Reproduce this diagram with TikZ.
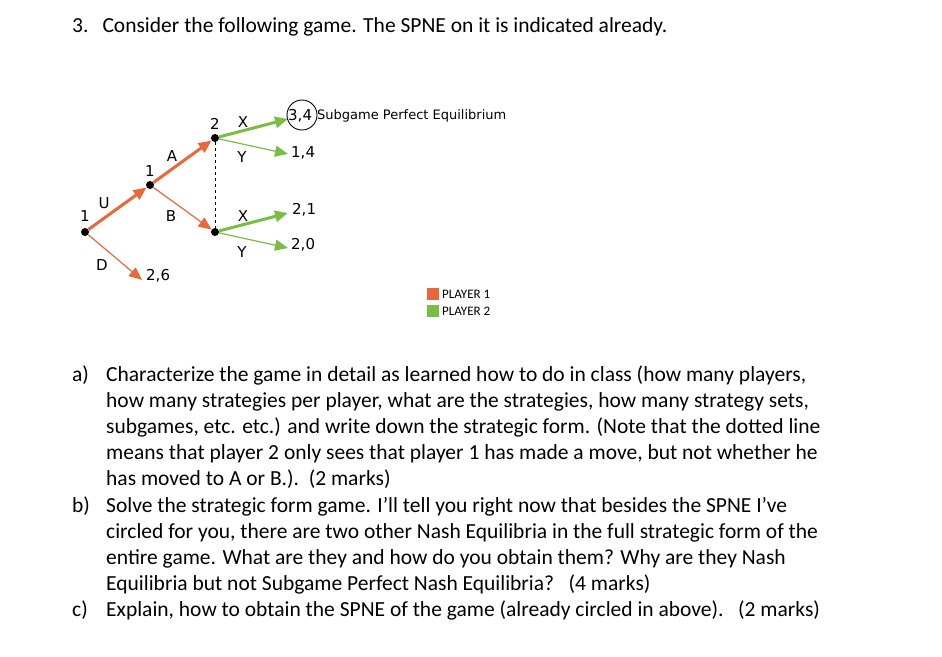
\documentclass[tikz,border=0pt]{standalone}
\usepackage{fontspec}
\setmainfont{Carlito}
\newfontfamily\dv{DejaVu Sans}
\usetikzlibrary{arrows.meta}
\definecolor{po}{HTML}{E8683A}
\definecolor{pg}{HTML}{78BE44}
\begin{document}
\begin{tikzpicture}[x=1pt,y=-1pt,
  txt/.style={anchor=base west,inner sep=0pt,font=\fontsize{21.5}{26}\selectfont},
  lab/.style={inner sep=0pt,font=\dv\fontsize{15}{17}\selectfont},
  dot/.style={circle,fill=black,inner sep=0pt,minimum size=8pt},
  p1/.style={po,-{Triangle[length=13pt,width=11pt]}},
  p2/.style={pg,-{Triangle[length=13pt,width=11pt]}},
  thick1/.style={line width=3pt},thin1/.style={line width=1.2pt}]
\useasboundingbox (0,0) rectangle (942,656);
\fill[white] (0,0) rectangle (942,656);
\node[txt] (title) at (72,32) {3.\hspace{14pt}Consider the following game. The SPNE on it is indicated already.};
% tree
\node[dot] (r) at (85,232) {};
\node[dot] (n1) at (150,185) {};
\node[dot] (t) at (215,138) {};
\node[dot] (b) at (215,232) {};
\coordinate (tx) at (288,119);
\coordinate (ty) at (288,154);
\coordinate (bx) at (288,213);
\coordinate (by) at (288,248);
\coordinate (d) at (142,280);
\draw[p1,thick1] (r) -- (n1);
\draw[p1,thin1] (r) -- (d);
\draw[p1,thick1] (n1) -- (t);
\draw[p1,thin1] (n1) -- (b);
\draw[p2,thick1] (t) -- (tx);
\draw[p2,thin1] (t) -- (ty);
\draw[p2,thick1] (b) -- (bx);
\draw[p2,thin1] (b) -- (by);
\draw[dashed,line width=1pt] (t) -- (b);
\node[lab] (l1) at (85,216) {1};
\node[lab] (l2) at (150,171) {1};
\node[lab] (l3) at (215,124) {2};
\node[lab] (lu) at (104,203) {U};
\node[lab] (ld) at (102,265) {D};
\node[lab] (la) at (172,156) {A};
\node[lab] (lb) at (171,216) {B};
\node[lab] (x1) at (243,122) {X};
\node[lab] (y1) at (242,157) {Y};
\node[lab] (x2) at (243,216) {X};
\node[lab] (y2) at (242,252) {Y};
\node[lab,anchor=west] (o1) at (288,116) {3,4};
\draw[line width=0.9pt] (302,115) circle (15);
\node[lab,anchor=west,font=\dv\fontsize{13}{15}\selectfont] (spe) at (317,116) {Subgame Perfect Equilibrium};
\node[lab,anchor=west] (o2) at (291,153) {1,4};
\node[lab,anchor=west] (o3) at (292,210) {2,1};
\node[lab,anchor=west] (o4) at (291,245) {2,0};
\node[lab,anchor=west] (o5) at (146,276) {2,6};
\fill[po] (427,288) rectangle (439,300);
\fill[pg] (427,305) rectangle (439,317);
\node[anchor=west,inner sep=0pt,font=\fontsize{13}{15}\selectfont] (k1) at (442,294) {PLAYER 1};
\node[anchor=west,inner sep=0pt,font=\fontsize{13}{15}\selectfont] (k2) at (442,311) {PLAYER 2};
% text
\node[txt] (a) at (72,381) {a)};
\node[txt] (a1) at (106,381) {Characterize the game in detail as learned how to do in class (how many players,};
\node[txt] (a2) at (106,407) {how many strategies per player, what are the strategies, how many strategy sets,};
\node[txt] (a3) at (106,433) {subgames, etc. etc.) and write down the strategic form. (Note that the dotted line};
\node[txt] (a4) at (106,459) {means that player 2 only sees that player 1 has made a move, but not whether he};
\node[txt] (a5) at (106,485) {has moved to A or B.).\ \ (2 marks)};
\node[txt] (b0) at (72,512) {b)};
\node[txt] (b1) at (106,512) {Solve the strategic form game. I’ll tell you right now that besides the SPNE I’ve};
\node[txt] (b2) at (106,538) {circled for you, there are two other Nash Equilibria in the full strategic form of the};
\node[txt] (b3) at (106,564) {entire game. What are they and how do you obtain them? Why are they Nash};
\node[txt] (b4) at (106,590) {Equilibria but not Subgame Perfect Nash Equilibria?\ \ \ (4 marks)};
\node[txt] (c0) at (72,616) {c)};
\node[txt] (c1) at (106,616) {Explain, how to obtain the SPNE of the game (already circled in above).\ \ \ (2 marks)};
\end{tikzpicture}
\end{document}
